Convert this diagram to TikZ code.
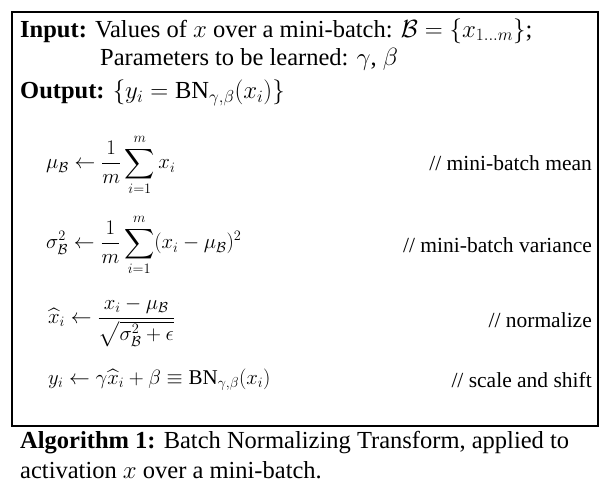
\documentclass[tikz,border=0pt]{standalone}
\usepackage{amsmath,amssymb}
\usepackage{fontspec}
\setmainfont{Liberation Serif}
\begin{document}
\begin{tikzpicture}[x=1pt,y=-1pt,
  txt/.style={anchor=west,inner sep=0pt,font=\fontsize{24.5}{28}\selectfont},
  eqn/.style={anchor=west,inner sep=0pt,font=\fontsize{21}{25}\selectfont},
  cmt/.style={anchor=east,inner sep=0pt,font=\fontsize{21.5}{25}\selectfont}]
\useasboundingbox (0,0) rectangle (609,492);
\draw[line width=1.6pt] (12,12) rectangle (598,426);
\node[txt] (in) at (20,31) {\textbf{Input:} Values of $x$ over a mini-batch: $\mathcal{B}=\{x_{1\ldots m}\}$;};
\node[txt] (par) at (100,59) {Parameters to be learned: $\gamma$, $\beta$};
\node[txt] (out) at (20,93) {\textbf{Output:} $\{y_i=\mathrm{BN}_{\gamma,\beta}(x_i)\}$};
\node[eqn] (e1) at (46,165) {$\displaystyle \mu_{\mathcal{B}}\leftarrow\frac{1}{m}\sum_{i=1}^{m}x_i$};
\node[cmt] (c1) at (592,163) {// mini-batch mean};
\node[eqn] (e2) at (46,245) {$\displaystyle \sigma^2_{\mathcal{B}}\leftarrow\frac{1}{m}\sum_{i=1}^{m}(x_i-\mu_{\mathcal{B}})^2$};
\node[cmt] (c2) at (592,245) {// mini-batch variance};
\node[eqn] (e3) at (48,322) {$\displaystyle \widehat{x}_i\leftarrow\frac{x_i-\mu_{\mathcal{B}}}{\sqrt{\sigma^2_{\mathcal{B}}+\epsilon}}$};
\node[cmt] (c3) at (592,320) {// normalize};
\node[eqn] (e4) at (48,380) {$\displaystyle y_i\leftarrow\gamma\widehat{x}_i+\beta\equiv\mathrm{BN}_{\gamma,\beta}(x_i)$};
\node[cmt] (c4) at (592,380) {// scale and shift};
\node[txt] (cap1) at (20,443) {\textbf{Algorithm 1:} Batch Normalizing Transform, applied to};
\node[txt] (cap2) at (20,470) {activation $x$ over a mini-batch.};
\end{tikzpicture}
\end{document}
